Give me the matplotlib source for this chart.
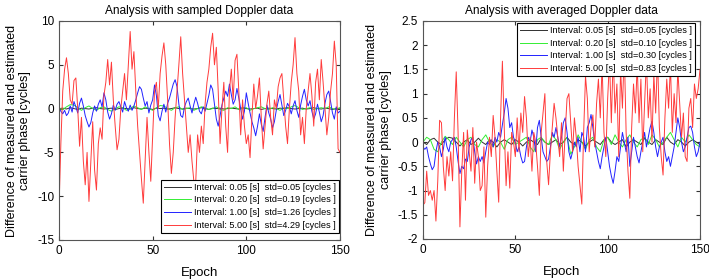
import numpy as np
import matplotlib
matplotlib.use("Agg")
import matplotlib.pyplot as plt

plt.rcParams['font.family'] = ['Liberation Sans', 'DejaVu Sans']

left_red = [-11.5, -4, 2, 4.5, 5.8, 4, 1, 0.5, 3.2, 3.5, 0, -4.3, -1, -6, -8.7, -5,
            -10.6, -6, -1.5, -7, -9.3, -4, -2.2, -3.5, 1.5, 3, 5.6, 2.7, 5.3, 1, -2,
            -4.7, -3.5, 0, 2, 4, 1, 5, 8.8, 4.5, 6.5, 2, -2, -5, -8, -10.8, -6, -1,
            -5, -8.3, -3, 2, 3, 0, 4, 6, 7.5, 5, 1, -4, -7.4, -5, -1, 2, 5, 8.2, 4,
            1, -2, -5, -3, -6, -8.3, -8.4, -3, -5, -2, -4, 0.5, 3, 4.5, 7, 8.6, 5, 7,
            2, -4, 0, 3, -2, -5, 2, 4.5, 1, 5.5, 6.2, 2, -3, 1, -2, -4, -3, -5.6, -1,
            2.8, 0, 1.5, 3.5, -1, -4.6, -2, 0.5, 2, -1, -3, 1, 0, 2.5, 3.5, 4, 1, -2,
            -4, 0, 3, 5, 8.1, 4, 2, -3, -1, -4, 0, 2, 4, 1.5, -2, 3, 4.5, 1, 5.6, 3,
            0, -3, -1, 2, 4, 7.7, 5, -4.6, -5]
left_blue = [0, -0.3, -0.6, -0.2, -0.8, -0.5, 0.3, -0.4, 0.8, 0.2, -0.5, 0.6, 1.2, 0.3,
             -0.8, -1.5, -2.1, -1.6, -0.5, 0.3, -0.3, 0.5, 1.0, 0.2, 1.8, 1.0, -0.4,
             -1.2, -0.6, 0.4, -0.2, 0.5, 0.8, 0.2, -0.4, 0.8, 0.1, -0.3, 0.4, -0.2, 0.3,
             1.0, 1.8, 2.5, 2.2, 1.2, 0.3, 0.8, -0.5, 0.4, 1.0, 2.7, 1.5, -0.8, -1.4,
             -0.3, 0.5, -0.4, 0.6, 1.2, 2.0, 2.8, 3.3, 2.5, 0.5, -0.8, -1.0, 0.2, 0.8,
             1.2, 0.3, -0.5, 0.5, 1.3, 0.6, -0.3, -0.6, 0.2, -0.3, 0.6, 1.5, 2.7, 2.2,
             0.5, -1.2, -2.0, -0.8, 0.4, 1.2, 2.0, 1.4, 2.8, 1.6, 0.5, 1.0, 2.3, 1.2,
             0.0, -1.2, -0.3, 1.8, 0.6, -0.5, -1.5, -2.2, -3.1, -2.0, -0.6, -1.8, -2.6,
             -1.0, 0.4, -0.5, -1.2, -2.2, -1.5, -0.2, 0.8, 1.6, 0.4, -0.8, -0.2, 0.6,
             0.2, -0.6, 0.3, 0.9, -0.2, -1.0, 0.4, 1.4, 2.2, 1.0, 0.3, 0.9, -0.3, -1.2,
             -0.6, 0.5, -0.4, -1.5, -0.8, 0.6, 1.6, 2.0, 0.8, -0.5, -1.2, 0.2, -0.5, -0.3]
left_green = [0.0, -0.1, 0.2, 0.45, 0.4, 0.1, -0.2, 0.1, 0.3, 0.0, -0.2, 0.1, 0.2, -0.1,
              -0.3, 0.0, 0.2, 0.1, -0.2, 0.0, 0.3, 0.1, -0.1, 0.2, 0.0, -0.2, 0.1, 0.35,
              0.3, 0.0, -0.2, 0.1, 0.2, -0.1, 0.0, 0.1, -0.2, 0.0, 0.2, 0.1, -0.1, 0.0,
              0.2, -0.1, -0.2, 0.1, 0.0, 0.2, -0.1, 0.0, 0.1, -0.2, 0.0, 0.1, 0.2, 0.0,
              -0.1, 0.1, 0.0, -0.2, 0.1, 0.0, 0.2, 0.35, 0.1, -0.1, 0.0, 0.1, -0.1, 0.0,
              0.1, 0.0, 0.2, 0.0, -0.1, 0.1]
left_black = [0.0, 0.05, -0.05, 0.1, 0.0, -0.1, 0.05, 0.0, -0.05, 0.05, 0.1, 0.0, -0.05,
              0.0, 0.05, -0.1, 0.0, 0.05, 0.0, -0.05, 0.1, 0.0, -0.05, 0.05, 0.0, -0.1,
              0.05, 0.0, 0.05, -0.05, 0.0, 0.1, 0.0, -0.05, 0.05, 0.0, -0.05, 0.0, 0.1,
              0.0, -0.1, 0.05, 0.0, 0.05, -0.05, 0.0, 0.05, 0.0, -0.05, 0.1, 0.0, -0.05,
              0.0, 0.05, -0.1, 0.0, 0.05, 0.0, -0.05, 0.05, 0.0, 0.1, 0.0, -0.05, 0.0,
              0.05, -0.05, 0.0, 0.1, 0.0, -0.05, 0.05, 0.0, -0.1, 0.0, 0.05]
left_labels = ['Interval: 0.05 [s]  std=0.05 [cycles ]',
               'Interval: 0.20 [s]  std=0.19 [cycles ]',
               'Interval: 1.00 [s]  std=1.26 [cycles ]',
               'Interval: 5.00 [s]  std=4.29 [cycles ]']

# ---- right panel: averaged Doppler data ----
right_red = [-1.3, -1.25, -0.6, -1.1, -1.0, -1.2, -1.0, -1.63, -0.8, 0.45, 0.4, -0.5,
             -1.0, -0.3, -0.7, -0.2, -0.8, 0.5, 1.45, 0.2, -1.75, -0.6, 0.2, -1.2, 0.25,
             -0.2, -0.6, 0.3, -0.85, 0.0, -0.3, -1.0, -0.9, -0.1, -1.55, -0.5, 0.1, -0.3,
             0.55, 0.1, -0.6, -1.24, 0.5, 1.67, 0.3, -0.9, -0.2, -0.95, 0.2, 0.0, -0.3,
             0.5, -0.2, 0.6, 0.2, 0.94, 0.5, -0.3, 0.1, -0.6, 0.2, 0.0, -0.5, -1.1, 0.2,
             0.6, 1.0, -0.4, -0.88, -0.2, 0.3, 0.8, 0.5, 0.1, -0.3, 0.4, -0.6, 0.2, 0.9,
             1.0, 0.4, -0.2, 0.5, 0.1, -0.5, -0.9, -1.28, 0.2, 1.36, 0.9, -0.2, 0.3, 0.56,
             -0.1, 0.8, 1.3, 0.5, 1.6, 0.2, -0.3, 0.9, 1.7, 0.4, 1.8, 0.6, 1.2, -0.3, 1.5,
             0.7, 1.9, 0.2, -0.6, -1.16, 0.3, 1.2, 0.6, 1.6, 0.4, 1.3, -0.2, 0.8, 1.7, 0.5,
             1.1, 0.0, 1.4, 0.6, 1.8, 0.3, -0.3, -0.68, 0.5, 1.3, 0.7, 1.6, 0.2, 1.0, 0.4,
             1.5, 0.8, 0.1, 0.6, -0.3, -0.4, 0.7, 0.9, 0.3, 1.2, 0.9, 1.1, 1.5]
right_blue = [-0.1, -0.15, -0.1, -0.3, -0.45, -0.57, -0.5, -0.2, 0.0, -0.1, -0.3, -0.15,
              0.1, -0.1, -0.2, 0.0, 0.05, 0.1, -0.1, -0.4, -0.65, -0.5, -0.55, -0.35, -0.4,
              -0.1, 0.05, 0.1, -0.2, -0.45, -0.3, -0.4, -0.3, -0.43, -0.2, 0.0, -0.05,
              0.05, -0.1, 0.1, 0.0, 0.2, 0.1, 0.36, 0.6, 0.9, 0.7, 0.3, 0.4, 0.1, 0.0,
              -0.2, -0.1, -0.3, -0.43, -0.4, -0.1, 0.1, 0.0, 0.25, 0.1, -0.2, 0.3, 0.45,
              0.1, -0.2, -0.3, -0.4, -0.35, -0.1, 0.2, 0.1, 0.3, 0.1, -0.1, 0.1, 0.4, 0.5,
              0.2, -0.2, -0.35, -0.2, 0.0, -0.1, 0.1, -0.2, 0.2, 0.1, -0.2, 0.3, 0.4, 0.57,
              0.3, 0.0, -0.2, -0.4, -0.55, -0.3, -0.1, 0.1, -0.2, -0.5, -0.7, -0.85, -0.6,
              -0.3, -0.4, -0.1, 0.2, 0.0, -0.2, 0.1, -0.5, -0.2, 0.1, -0.1, -0.3, -0.43,
              -0.2, 0.0, 0.2, -0.1, 0.1, 0.3, 0.43, 0.2, -0.1, -0.3, -0.1, 0.0, 0.1, -0.2,
              -0.4, -0.3, -0.5, -0.3, -0.1, 0.2, 0.5, 0.3, 0.0, -0.2, -0.1, 0.1, 0.3, 0.33,
              0.2, -0.1, -0.3, -0.2, 0.0]
right_green = [0.0, 0.1, 0.05, -0.15, -0.2, 0.0, 0.12, 0.05, -0.05, 0.1, 0.0, -0.1, 0.05,
               0.1, -0.05, -0.1, 0.05, 0.15, 0.0, -0.1, 0.05, 0.0, -0.15, 0.05, 0.1, -0.05,
               0.0, 0.05, 0.1, -0.1, -0.2, 0.05, 0.1, 0.0, -0.05, 0.15, 0.05, -0.15, 0.0,
               0.1, -0.25, -0.1, 0.15, 0.0, -0.15, 0.05, 0.1, -0.1, -0.2, 0.05, 0.1, -0.05,
               0.15, 0.0, -0.1, 0.05, 0.15, 0.0, -0.1, 0.05, 0.1, -0.05, 0.15, 0.05, -0.1,
               0.0, 0.1, 0.2, 0.05, -0.1, 0.1, 0.0, 0.15, 0.05, -0.05, -0.1]
right_black = [0.0, -0.05, 0.05, 0.08, 0.0, -0.05, 0.05, 0.1, 0.08, 0.0, -0.08, 0.0, 0.05,
               -0.05, 0.0, 0.08, 0.0, -0.05, 0.05, 0.0, -0.1, 0.0, 0.05, 0.0, -0.05, 0.05,
               0.0, -0.08, 0.0, 0.05, 0.0, -0.05, 0.08, 0.0, -0.05, 0.0, 0.05, -0.05, 0.0,
               0.1, 0.0, -0.05, 0.05, 0.0, -0.08, 0.0, 0.05, 0.0, -0.05, 0.05, 0.1, 0.0,
               -0.05, 0.0, 0.05, -0.1, 0.0, 0.05, 0.0, -0.05, 0.08, 0.0, -0.05, 0.05, 0.0,
               -0.05, 0.1, 0.0, -0.05, 0.05, 0.0, -0.08, 0.0, 0.05, 0.0, -0.05]
right_labels = ['Interval: 0.05 [s]  std=0.05 [cycles ]',
                'Interval: 0.20 [s]  std=0.10 [cycles ]',
                'Interval: 1.00 [s]  std=0.30 [cycles ]',
                'Interval: 5.00 [s]  std=0.83 [cycles ]']

colors = ['#303030', '#33ee33', '#2222ff', '#ff3b3b']
ylabel = 'Difference of measured and estimated\ncarrier phase [cycles]'


def draw(ax, series, labels, title, ylim, yticks, legend_loc, anchor):
    for s, c, lab in zip(series, colors, labels):
        x = np.linspace(0, 150, len(s))
        ax.plot(x, s, color=c, lw=0.7, label=lab)
    ax.set_xlim(0, 150)
    ax.set_ylim(*ylim)
    ax.set_xticks([0, 50, 100, 150])
    ax.set_yticks(yticks)
    ax.set_yticklabels([('%g' % t) for t in yticks])
    ax.tick_params(direction='in', top=True, right=True, labelsize=8.5, length=3,
                   colors='#333333', labelcolor='black')
    for sp in ax.spines.values():
        sp.set_color('#555555')
        sp.set_linewidth(0.8)
    ax.set_title(title, fontsize=8.6, pad=5)
    ax.set_xlabel('Epoch', fontsize=9.5, labelpad=7)
    ax.set_ylabel(ylabel, fontsize=9, labelpad=4)
    leg = ax.legend(loc=legend_loc, bbox_to_anchor=anchor, borderaxespad=0,
                    fontsize=6.6, fancybox=False, framealpha=1,
                    edgecolor='black', handlelength=2.9, borderpad=0.35,
                    labelspacing=0.4, handletextpad=0.3)
    leg.get_frame().set_linewidth(0.8)


fig = plt.figure(figsize=(7.09, 2.79), dpi=100)
ax1 = fig.add_axes([0.0832, 0.1398, 0.3963, 0.785])
ax2 = fig.add_axes([0.5966, 0.1434, 0.3907, 0.7814])

draw(ax1, [left_black, left_green, left_blue, left_red], left_labels,
     'Analysis with sampled Doppler data', (-15, 10), [-15, -10, -5, 0, 5, 10],
     'lower right', (0.996, 0.032))
draw(ax2, [right_black, right_green, right_blue, right_red], right_labels,
     'Analysis with averaged Doppler data', (-2, 2.5),
     [-2, -1.5, -1, -0.5, 0, 0.5, 1, 1.5, 2, 2.5], 'upper right', (0.982, 0.991))

fig.savefig('out.png', dpi=100)
